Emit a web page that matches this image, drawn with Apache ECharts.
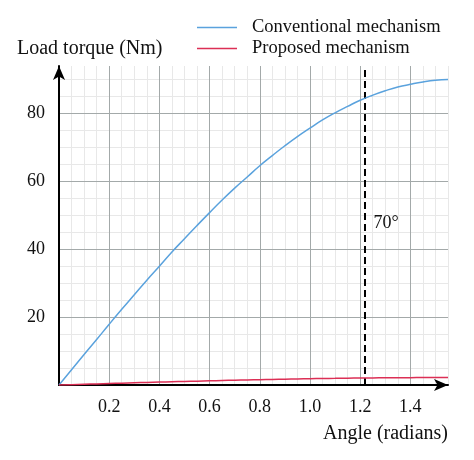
<!DOCTYPE html>
<html>
<head>
<meta charset="utf-8">
<script src="https://cdn.jsdelivr.net/npm/echarts@6/dist/echarts.min.js"></script>
<style>
  html, body { margin: 0; padding: 0; background: #fff; }
  #chart { width: 474px; height: 460px; }
</style>
</head>
<body>
<div id="chart"></div>
<script>
// angle in radians, every 0.05
var angles = [0, 0.05, 0.1, 0.15, 0.2, 0.25, 0.3, 0.35, 0.4, 0.45, 0.5, 0.55, 0.6, 0.65, 0.7, 0.75,
  0.8, 0.85, 0.9, 0.95, 1.0, 1.05, 1.1, 1.15, 1.2, 1.25, 1.3, 1.35, 1.4, 1.45, 1.5, 1.55];
var conventional = [0, 4.5, 9.0, 13.4, 17.9, 22.3, 26.6, 30.9, 35.0, 39.2, 43.1, 47.0, 50.8, 54.5, 58.0, 61.3,
  64.6, 67.6, 70.5, 73.2, 75.7, 78.1, 80.2, 82.1, 83.9, 85.4, 86.7, 87.8, 88.6, 89.3, 89.8, 90.0];
var proposed = [0, 0.11, 0.22, 0.33, 0.44, 0.55, 0.65, 0.75, 0.85, 0.95, 1.05, 1.14, 1.23, 1.32, 1.41, 1.49,
  1.58, 1.65, 1.72, 1.79, 1.85, 1.91, 1.96, 2.01, 2.05, 2.09, 2.12, 2.15, 2.17, 2.19, 2.2, 2.2];
var seriesNames = ["Conventional mechanism", "Proposed mechanism"];
var markAngle = 1.2217; // 70 deg
var markText = "70°";

var serif = "'Liberation Serif', 'Times New Roman', serif";

function pairs(ys) {
  return angles.map(function (a, i) { return [a, ys[i]]; });
}

var myChart = echarts.init(document.getElementById("chart"));

var option = {
  backgroundColor: "#ffffff",
  animation: false,
  title: [
    { text: "Load torque (Nm)", left: 12, top: 34,
      textStyle: { fontFamily: serif, fontSize: 20, fontWeight: "normal", color: "#111" } },
    { text: "Angle (radians)", right: 21, top: 419,
      textStyle: { fontFamily: serif, fontSize: 20, fontWeight: "normal", color: "#111" } }
  ],
  legend: {
    orient: "vertical",
    left: 192,
    top: 13,
    icon: "rect",
    itemWidth: 40,
    itemHeight: 1.5,
    itemGap: 2,
    textStyle: { fontFamily: serif, fontSize: 18.5, color: "#111", lineHeight: 19, padding: [0, 0, 0, 10] },
    data: seriesNames
  },
  grid: { left: 59, right: 26, top: 66, bottom: 75 },
  xAxis: [
    {
      type: "value", min: 0, max: 1.55, interval: 0.2, z: 3,
      axisLine: { lineStyle: { color: "#000", width: 2 }, symbol: ["none", "arrow"], symbolSize: [9, 14] },
      axisTick: { show: false },
      axisLabel: { showMinLabel: false, showMaxLabel: false, margin: 13,
        fontFamily: serif, fontSize: 18, color: "#111",
        formatter: function (v) { return v.toFixed(1); } },
      splitLine: { show: true, showMinLine: false, showMaxLine: false, lineStyle: { color: "#a3a9a9", width: 1 } }
    },
    {
      type: "value", min: 0, max: 1.55, interval: 0.05, z: 1,
      axisLine: { show: false }, axisTick: { show: false }, axisLabel: { show: false },
      splitLine: { show: true, showMinLine: false, lineStyle: { color: "#e8e8e8", width: 1 } }
    }
  ],
  yAxis: [
    {
      type: "value", min: 0, max: 94, interval: 20, z: 3,
      axisLine: { show: true, lineStyle: { color: "#000", width: 2 }, symbol: ["none", "arrow"], symbolSize: [9, 14] },
      axisTick: { show: false },
      axisLabel: { showMinLabel: false, showMaxLabel: false, margin: 14,
        fontFamily: serif, fontSize: 18, color: "#111" },
      splitLine: { show: true, showMinLine: false, showMaxLine: false, lineStyle: { color: "#a3a9a9", width: 1 } }
    },
    {
      type: "value", min: 0, max: 94, interval: 5, z: 1,
      axisLine: { show: false }, axisTick: { show: false }, axisLabel: { show: false },
      splitLine: { show: true, showMinLine: false, showMaxLine: false, lineStyle: { color: "#e8e8e8", width: 1 } }
    }
  ],
  series: [
    {
      name: seriesNames[0], type: "line", data: pairs(conventional),
      xAxisIndex: 0, yAxisIndex: 0, smooth: true, symbol: "none", z: 5,
      itemStyle: { color: "#5aa2dd" },
      lineStyle: { color: "#5aa2dd", width: 1.5 },
      markLine: {
        silent: true, symbol: "none",
        lineStyle: { color: "#000", type: [7, 4], width: 2 },
        label: { show: false },
        data: [{ xAxis: markAngle }]
      },
      markPoint: {
        silent: true, symbol: "circle", symbolSize: 0,
        label: { show: true, position: "right", distance: 8, formatter: markText,
          fontFamily: serif, fontSize: 18, color: "#111" },
        data: [{ coord: [markAngle, 47.6] }]
      }
    },
    {
      name: seriesNames[1], type: "line", data: pairs(proposed),
      xAxisIndex: 0, yAxisIndex: 0, smooth: true, symbol: "none", z: 5,
      itemStyle: { color: "#dc2f55" },
      lineStyle: { color: "#dc2f55", width: 1.5 }
    }
  ]
};

myChart.setOption(option);
</script>
</body>
</html>
